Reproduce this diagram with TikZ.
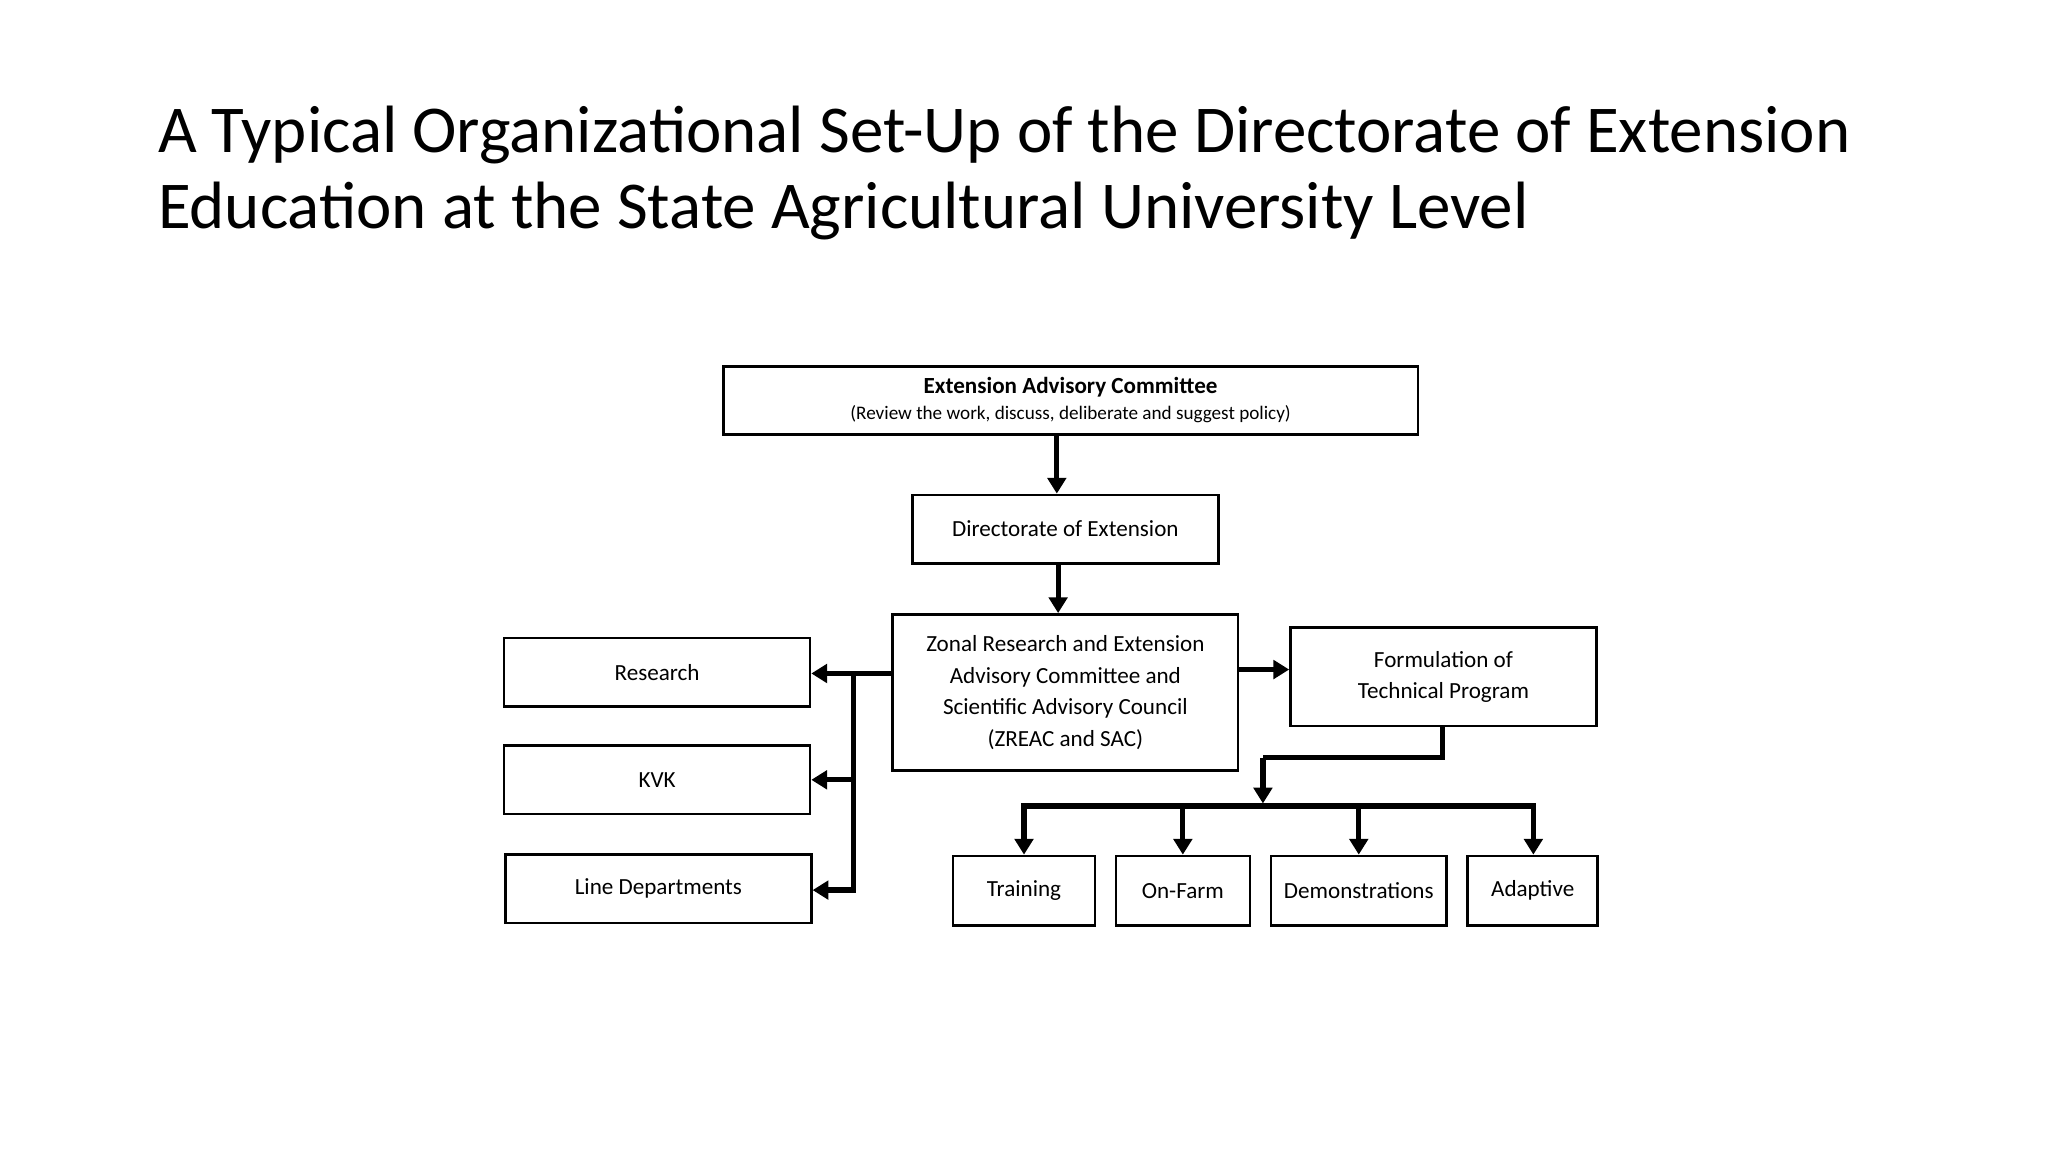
\documentclass[tikz,border=0pt]{standalone}
\usepackage{fontspec}
\setmainfont{Carlito}
\usetikzlibrary{arrows.meta}
\begin{document}
\begin{tikzpicture}[x=0.5pt,y=-0.5pt,
  bx/.style={draw,line width=1pt,inner sep=0pt,font=\fontsize{8.8pt}{12pt}\selectfont,align=center},
  ar/.style={line width=2pt,-{Triangle[length=6pt,width=7pt]}},
  ln/.style={line width=2pt}]
\useasboundingbox (0,0) rectangle (1560,877.5);
\node[anchor=north west,align=left,inner sep=0pt,font=\fontsize{25.5pt}{29pt}\selectfont] (title) at (120,80)
 {A Typical Organizational Set-Up of the Directorate of Extension\\Education at the State Agricultural University Level};
\newcommand{\bxat}[6]{\node[bx,minimum width=#4*0.5pt-#2*0.5pt,minimum height=#5*0.5pt-#3*0.5pt] (#1) at ({(#2+#4)/2},{(#3+#5)/2}) {#6};}
\bxat{eac}{551}{279}{1080}{331}{\textbf{Extension Advisory Committee}\\[-2pt]{\fontsize{7.3pt}{8pt}\selectfont(Review the work, discuss, deliberate and suggest policy)}}
\bxat{dir}{695}{377}{928}{429}{Directorate of Extension}
\bxat{zon}{680}{468}{943}{587}{Zonal Research and Extension\\Advisory Committee and\\Scientific Advisory Council\\(ZREAC and SAC)}
\bxat{frm}{983}{478}{1216}{553}{Formulation of\\Technical Program}
\bxat{res}{384}{486}{617}{538}{Research}
\bxat{kvk}{384}{568}{617}{620}{KVK}
\bxat{lin}{385}{651}{618}{703}{Line Departments}
\bxat{trn}{726}{652}{834}{705}{Training}
\bxat{onf}{850}{652}{952}{705}{On-Farm}
\bxat{dem}{968}{652}{1102}{705}{Demonstrations}
\bxat{adp}{1118}{652}{1217}{705}{Adaptive}
\draw[ar] (eac.south -| 805,0) -- (dir.north -| 805,0);
\draw[ar] (dir.south -| 806,0) -- (zon.north -| 806,0);
\draw[ar] (zon.west |- 0,513) -- (res.east |- 0,513);
\coordinate (sp) at (650,513);
\draw[ln] (sp) -- (650,680);
\draw[ar] (650,594) -- (kvk.east |- 0,594);
\draw[ar] (650,678) -- (lin.east |- 0,678);
\draw[ar] (zon.east |- 0,510) -- (frm.west |- 0,510);
\coordinate (bj) at (962,577);
\draw[ln] (frm.south -| 1099,0) -- (1099,577) -- (bj);
\draw[ar] (bj) -- (962,612);
\draw[ln] (778,614) -- (1170,614);
\foreach \n/\x in {trn/780,onf/901,dem/1035,adp/1168}
  \draw[ar] (\x,614) -- (\n.north -| \x,0);
\end{tikzpicture}
\end{document}
